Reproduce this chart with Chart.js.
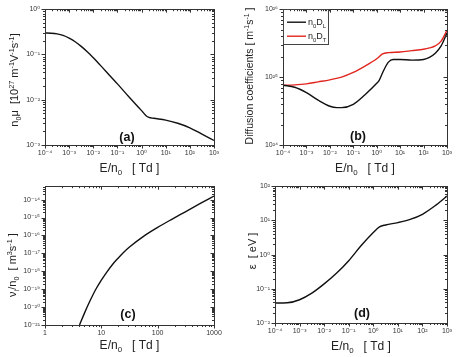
<!DOCTYPE html>
<html><head><meta charset="utf-8">
<script src="https://cdn.jsdelivr.net/npm/chart.js@4.4.1/dist/chart.umd.min.js"></script>
<style>
html,body{margin:0;padding:0;background:#fff;width:474px;height:357px;overflow:hidden;position:relative}
canvas{position:absolute;display:block}
</style></head><body>
<canvas id="ca" width="237" height="177" style="left:0;top:0"></canvas>
<canvas id="cb" width="237" height="177" style="left:237px;top:0"></canvas>
<canvas id="cc" width="237" height="180" style="left:0;top:177px"></canvas>
<canvas id="cd" width="237" height="180" style="left:237px;top:177px"></canvas>
<script>
// ---------- DATA ----------
// (a) reduced mobility
const muE   = [1e-4,1.78e-4,3.16e-4,5.62e-4,1e-3,1.78e-3,3.16e-3,5.62e-3,1e-2,3.16e-2,0.1,0.316,1,1.58,2.0,3.16,10,31.6,100,316,1000];
const muVal = [0.2985,0.295,0.285,0.263,0.229,0.191,0.151,0.115,0.0851,0.0437,0.0224,0.0112,0.00575,0.00437,0.00407,0.00389,0.00355,0.00302,0.0024,0.00174,0.00126];
const muTicks = [1e-3,1e-2,1e-1,1];
// (b) diffusion coefficients
const dlE   = [1e-4,3.16e-4,1e-3,3.16e-3,1e-2,2e-2,3.16e-2,0.1,0.316,1,1.26,2,3.16,5,10,31.6,100,178,316,562,1000];
const dlVal = [7.59e24,7.08e24,5.89e24,4.57e24,3.72e24,3.55e24,3.55e24,3.98e24,5.5e24,8.1e24,8.9e24,1.26e25,1.66e25,1.82e25,1.82e25,1.78e25,1.82e25,1.95e25,2.24e25,2.88e25,4.47e25];
const dtE   = [1e-4,3.16e-4,1e-3,3.16e-3,1e-2,3.16e-2,0.1,0.316,1,1.78,3.16,10,31.6,100,178,316,562,1000];
const dtVal = [7.59e24,7.67e24,7.94e24,8.5e24,9.12e24,1.0e25,1.17e25,1.45e25,1.86e25,2.19e25,2.29e25,2.34e25,2.45e25,2.57e25,2.69e25,2.88e25,3.39e25,4.9e25];
const dTicks = [1e24,1e25,1e26];
const dLabels = ['n_{0}D_{L}','n_{0}D_{T}'];
// (c) ionization rate coefficient
const nuE   = [4.1,5.0,6.3,7.9,10,12.6,15.8,20,25,31.6,56,100,178,316,562,1000];
const nuVal = [1e-21,4.47e-21,2.24e-20,9.33e-20,3.16e-19,9.33e-19,2.4e-18,5.5e-18,1.15e-17,2.24e-17,8.91e-17,2.82e-16,7.94e-16,2.14e-15,5.89e-15,1.58e-14];
const nuTicks = [1e-21,1e-20,1e-19,1e-18,1e-17,1e-16,1e-15,1e-14];
const nuXTicks = [1,10,100,1000];
// (d) mean energy
const epsE   = [1e-4,3.16e-4,1e-3,3.16e-3,1e-2,3.16e-2,0.1,0.316,1,1.78,3.16,10,31.6,100,316,1000];
const epsVal = [0.0383,0.0389,0.0479,0.0746,0.139,0.284,0.664,1.81,4.42,6.46,7.36,8.61,10.7,15.1,26.3,51.3];
const epsTicks = [1e-2,1e-1,1,10,100];
const eTicks = [1e-4,1e-3,1e-2,1e-1,1,10,100,1000];

// ---------- helpers ----------
const FONT = "'Liberation Sans', Arial, 'DejaVu Sans', sans-serif";
const SUP = {'0':'⁰','1':'¹','2':'²','3':'³','4':'⁴','5':'⁵','6':'⁶','7':'⁷','8':'⁸','9':'⁹','-':'⁻'};
function pow10Label(v){const e=Math.round(Math.log10(v));return '10'+String(e).split('').map(c=>SUP[c]).join('');}
function parseRich(s){const out=[];let i=0;const isM=k=>(s[k]==='_'||s[k]==='^')&&s[k+1]==='{';
  while(i<s.length){if(isM(i)){const j=s.indexOf('}',i);out.push({t:s.slice(i+2,j),m:s[i]});i=j+1;}
  else{let j=i;while(j<s.length&&!isM(j))j++;out.push({t:s.slice(i,j),m:''});i=j;}}return out;}
function drawRich(ctx,s,x,y,size,o){o=o||{};const segs=parseRich(s);
  const f=(m)=>(o.bold?'bold ':'')+(m?size*0.66:size)+'px '+FONT;let w=0;
  segs.forEach(g=>{ctx.font=f(g.m);g.w=ctx.measureText(g.t).width;w+=g.w;});
  ctx.save();ctx.translate(x,y);if(o.rot)ctx.rotate(o.rot);ctx.textAlign='left';ctx.textBaseline='alphabetic';
  ctx.fillStyle=o.color||'#222';let cx=o.align==='left'?0:-w/2;const base=size*0.36;
  segs.forEach(g=>{ctx.font=f(g.m);const dy=g.m==='^'?-size*0.4:(g.m==='_'?size*0.25:0);ctx.fillText(g.t,cx,base+dy);cx+=g.w;});
  ctx.restore();}
function logMarks(min,max){const maj=[],mn=[];const e0=Math.floor(Math.log10(min))-1,e1=Math.ceil(Math.log10(max))+1;
  for(let e=e0;e<=e1;e++)for(let k=1;k<10;k++){const v=k*Math.pow(10,e);if(v<min*0.9999||v>max*1.0001)continue;(k===1?maj:mn).push(v);}
  return {maj,mn};}

const deco = {
  id:'deco',
  afterDraw(chart,args,o){
    const ctx=chart.ctx,a=chart.chartArea,xs=chart.scales.x,ys=chart.scales.y;
    ctx.save();ctx.strokeStyle='#333';ctx.lineWidth=1;
    const xm=logMarks(xs.min,xs.max),ym=logMarks(ys.min,ys.max);
    ctx.beginPath();
    [[xm.maj,3.5],[xm.mn,2]].forEach(([arr,L])=>arr.forEach(v=>{const p=Math.round(xs.getPixelForValue(v))+0.5;
      ctx.moveTo(p,a.bottom);ctx.lineTo(p,a.bottom+L);ctx.moveTo(p,a.top);ctx.lineTo(p,a.top+L);}));
    [[ym.maj,3.5],[ym.mn,2]].forEach(([arr,L])=>arr.forEach(v=>{const p=Math.round(ys.getPixelForValue(v))+0.5;
      ctx.moveTo(a.left,p);ctx.lineTo(a.left-L,p);ctx.moveTo(a.right,p);ctx.lineTo(a.right-L,p);}));
    ctx.stroke();
    ctx.strokeRect(Math.round(a.left)+0.5,Math.round(a.top)+0.5,Math.round(a.right-a.left),Math.round(a.bottom-a.top));
    ctx.restore();
    drawRich(ctx,o.xtitle,(a.left+a.right)/2,o.xty,12,{});
    drawRich(ctx,o.ytitle,o.ytx,o.yty,o.ysize,{rot:-Math.PI/2});
    drawRich(ctx,o.panel,o.px,o.py,12.5,{bold:true,color:'#111'});
    if(o.legend){const lg=o.legend;ctx.save();ctx.strokeStyle='#444';ctx.lineWidth=1;
      ctx.strokeRect(Math.round(a.left)+0.5,Math.round(a.top)+0.5,lg.w,lg.h);
      chart.data.datasets.forEach((d,i)=>{const yy=a.top+lg.y0+i*lg.dy;ctx.strokeStyle=d.borderColor;ctx.lineWidth=1.4;
        ctx.beginPath();ctx.moveTo(a.left+4,yy);ctx.lineTo(a.left+23,yy);ctx.stroke();
        drawRich(ctx,d.label,a.left+25,yy,9,{align:'left'});});
      ctx.restore();}
  }
};

function pts(xs,ys){return xs.map((x,i)=>({x:x,y:ys[i]}));}
function axisX(min,max,ticks,h,fmt){return {type:'logarithmic',position:'bottom',min:min,max:max,bounds:'data',
  afterBuildTicks:s=>{s.ticks=ticks.map(v=>({value:v}));},afterFit:s=>{s.height=h;},
  grid:{display:false,drawTicks:false},border:{display:false},
  ticks:{callback:fmt,autoSkip:false,maxRotation:0,padding:4,color:'#333',font:{size:7,family:FONT}}};}
function axisY(min,max,ticks,w){return {type:'logarithmic',position:'left',min:min,max:max,bounds:'data',
  afterBuildTicks:s=>{s.ticks=ticks.map(v=>({value:v}));},afterFit:s=>{s.width=w;},
  grid:{display:false,drawTicks:false},border:{display:false},
  ticks:{callback:v=>pow10Label(v),autoSkip:false,padding:5,color:'#333',font:{size:7,family:FONT}}};}
function ds(label,data,color){return {label:label,data:data,borderColor:color,backgroundColor:color,borderWidth:1.4,pointRadius:0,fill:false,cubicInterpolationMode:'monotone'};}
function make(id,datasets,x,y,pad,decoOpts){
  return new Chart(document.getElementById(id),{type:'line',data:{datasets:datasets},
    options:{responsive:false,animation:false,devicePixelRatio:1,layout:{padding:pad},
      scales:{x:x,y:y},plugins:{legend:{display:false},tooltip:{enabled:false},deco:decoOpts}},plugins:[deco]});}
const XT = 'E/n_{0}   [ Td ]';
make('ca',[ds('mu',pts(muE,muVal),'#111')],axisX(1e-4,1e3,eTicks,32,v=>pow10Label(v)),axisY(1e-3,1,muTicks,45),
  {left:0,right:23,top:8,bottom:0},
  {xtitle:XT,xty:168,ytitle:'n_{0}μ  [10^{27} m^{-1}V^{-1}s^{-1}]',ytx:14,yty:80,ysize:11,panel:'(a)',px:127,py:136});
make('cb',[ds(dLabels[0],pts(dlE,dlVal),'#111'),ds(dLabels[1],pts(dtE,dtVal),'#e0261f')],
  axisX(1e-4,1e3,eTicks,32,v=>pow10Label(v)),axisY(1e24,1e26,dTicks,46),
  {left:0,right:27,top:8,bottom:0},
  {xtitle:XT,xty:168,ytitle:'Diffusion coefficients [ m^{-1}s^{-1} ]',ytx:12,yty:76,ysize:10.5,panel:'(b)',px:121,py:135,
   legend:{w:45,h:35,y0:13,dy:14}});
make('cc',[ds('nu',pts(nuE,nuVal),'#111')],axisX(1,1000,nuXTicks,32,v=>String(v)),axisY(1e-21,5.6e-14,nuTicks,45),
  {left:0,right:23,top:9,bottom:0},
  {xtitle:XT,xty:168,ytitle:'ν_{i}/n_{0}  [ m^{3}s^{-1} ]',ytx:12,yty:88,ysize:11,panel:'(c)',px:128,py:136});
make('cd',[ds('eps',pts(epsE,epsVal),'#111')],axisX(1e-4,1e3,eTicks,34,v=>pow10Label(v)),axisY(1e-2,100,epsTicks,38),
  {left:0,right:27,top:8,bottom:0},
  {xtitle:XT,xty:169,ytitle:'ε  [ eV ]',ytx:15,yty:74,ysize:11,panel:'(d)',px:125,py:135});
</script>
</body></html>
